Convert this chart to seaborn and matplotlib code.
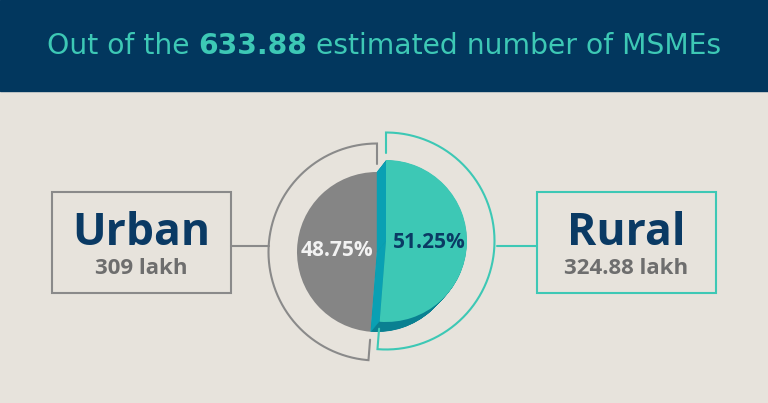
import matplotlib
matplotlib.use("Agg")
import matplotlib.pyplot as plt
import numpy as np
import seaborn as sns
from matplotlib.patches import Rectangle, Polygon

# data (lakh MSMEs)
segments = ["Rural", "Urban"]
msme_lakh = [324.88, 309]
total_lakh = 633.88

sns.set_theme(style="white")
plt.rcParams["font.family"] = ["Open Sans", "DejaVu Sans"]

BG = "#E7E3DC"
NAVY = "#02375E"
NAVY_TXT = "#0A3A64"
TEAL = "#3DC8B5"
TEAL_MID = "#0AA0B3"
TEAL_DARK = "#0A8091"
GRAY = "#858585"
GRAY_LINE = "#8A8A8A"
GRAY_TXT = "#6E6E6E"

W, H = 768, 403
fig = plt.figure(figsize=(W / 100, H / 100), dpi=100, facecolor=BG)
ax = fig.add_axes([0, 0, 1, 1])
ax.set_xlim(0, W)
ax.set_ylim(H, 0)
ax.axis("off")

# header band + title
ax.add_patch(Rectangle((0, 0), W, 91, color=NAVY, zorder=0))
renderer = fig.canvas.get_renderer()
parts = [("Out of the", "normal"), (f"{total_lakh:.2f}", "bold"),
         ("estimated number of MSMEs", "normal")]
title_kw = dict(fontsize=20.3, color=TEAL, va="baseline", ha="left", family="DejaVu Sans")
texts = [ax.text(0, 54, s, fontweight=w, **title_kw) for s, w in parts]
probe1 = ax.text(0, 0, "x x", **title_kw)
probe2 = ax.text(0, 0, "xx", **title_kw)
gap = probe1.get_window_extent(renderer).width - probe2.get_window_extent(renderer).width
probe1.remove()
probe2.remove()
widths = [t.get_window_extent(renderer).width for t in texts]
x = W / 2 - (sum(widths) + gap * (len(widths) - 1)) / 2
for t, w in zip(texts, widths):
    t.set_x(x)
    x += w + gap

# pie axes, in pixel units around the base centre
cx, cy = 377, 252
half = 130
pax = fig.add_axes([(cx - half) / W, (H - cy - half) / H, 2 * half / W, 2 * half / H])
pax.patch.set_alpha(0)
dx, dy = 9, 11
r = 80
fracs = np.array(msme_lakh) / sum(msme_lakh)
a_end = 90 - 360 * fracs[0]

pie_kw = dict(startangle=90, counterclock=False, wedgeprops=dict(linewidth=0))
pct_kw = dict(fontsize=15, fontweight="bold")

# base: gray urban wedge + dark underside of rural wedge
_, _, base_txt = pax.pie(msme_lakh, colors=[TEAL_DARK, GRAY], radius=r, center=(0, 0),
                         autopct="%.2f%%", pctdistance=0.5,
                         textprops=dict(color="#F2F2F2", **pct_kw), **pie_kw)
base_txt[0].set_visible(False)
for t in np.linspace(0, 1, 30)[1:-1]:
    pax.pie(msme_lakh, colors=[TEAL_DARK, "none"], radius=r + t,
            center=(t * dx, t * dy), **pie_kw)

# flat side faces of the raised rural wedge
for ang in (90, a_end):
    px, py = r * np.cos(np.radians(ang)), r * np.sin(np.radians(ang))
    pax.add_patch(Polygon([(0, 0), (px, py), (px + dx, py + dy), (dx, dy)],
                          closed=True, facecolor=TEAL_MID, edgecolor=TEAL_MID,
                          linewidth=0.3, zorder=3))

_, _, top_txt = pax.pie(msme_lakh, colors=[TEAL, "none"], radius=r + 1, center=(dx, dy),
                        autopct="%.2f%%", pctdistance=0.54,
                        textprops=dict(color=NAVY_TXT, **pct_kw), **pie_kw)
top_txt[1].set_visible(False)
for w in pax.patches[-2:]:
    w.set_zorder(4)
for t in top_txt:
    t.set_zorder(5)
base_txt[1].set_zorder(5)


def bracket(ox, oy, a0, a1, color, r_out=108.5, r_in=88):
    th = np.radians(np.linspace(a0, a1, 200))
    xs = np.r_[r_in * np.cos(th[0]), r_out * np.cos(th), r_in * np.cos(th[-1])] + ox
    ys = np.r_[r_in * np.sin(th[0]), r_out * np.sin(th), r_in * np.sin(th[-1])] + oy
    pax.plot(xs, ys, color=color, lw=1.5, solid_joinstyle="miter", zorder=2)


bracket(0, 0, 90, 90 + 360 * fracs[1], GRAY_LINE)
bracket(dx, dy, a_end, 90, TEAL)

pax.set_xlim(-half, half)
pax.set_ylim(-half, half)
pax.set_aspect("equal")
pax.axis("off")

# connectors and labelled boxes
ax.plot([231, 269], [246, 246], color=GRAY_LINE, lw=1.5)
ax.plot([497, 537], [246, 246], color=TEAL, lw=1.5)
boxes = {"Urban": (52, GRAY_LINE, msme_lakh[1]), "Rural": (537, TEAL, msme_lakh[0])}
for name, (bx, ec, val) in boxes.items():
    ax.add_patch(Rectangle((bx, 192), 179, 101, fill=False, edgecolor=ec, lw=1.5))
    ax.text(bx + 89.5, 245, name, fontsize=32, fontweight="bold", color=NAVY_TXT,
            ha="center", va="baseline")
    ax.text(bx + 89.5, 274, f"{val:g} lakh", fontsize=16, fontweight="bold",
            color=GRAY_TXT, ha="center", va="baseline")

fig.savefig("out.png", dpi=100, facecolor=BG)
